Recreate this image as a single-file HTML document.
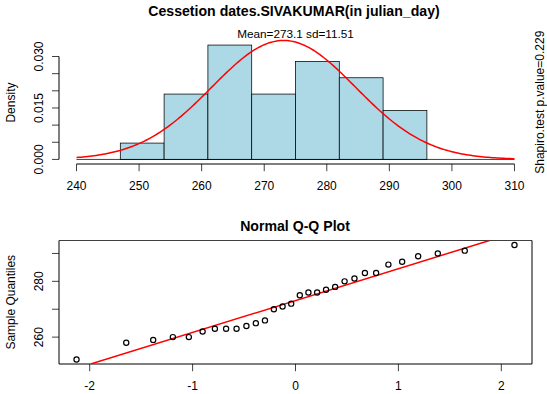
<!DOCTYPE html>
<html><head><meta charset="utf-8"><style>
html,body{margin:0;padding:0;background:#fff;width:547px;height:394px;overflow:hidden}
text{font-family:"Liberation Sans",sans-serif;fill:#000}
</style></head><body>
<svg width="547" height="394" viewBox="0 0 547 394" style="display:block"><rect width="547" height="394" fill="#fff"/><rect x="120.31" y="143.09" width="43.80" height="16.34" fill="#ADD8E6" stroke="#000" stroke-width="0.75"/><rect x="164.11" y="94.08" width="43.80" height="65.34" fill="#ADD8E6" stroke="#000" stroke-width="0.75"/><rect x="207.91" y="45.07" width="43.80" height="114.35" fill="#ADD8E6" stroke="#000" stroke-width="0.75"/><rect x="251.70" y="94.08" width="43.80" height="65.34" fill="#ADD8E6" stroke="#000" stroke-width="0.75"/><rect x="295.50" y="61.41" width="43.80" height="98.02" fill="#ADD8E6" stroke="#000" stroke-width="0.75"/><rect x="339.30" y="77.75" width="43.80" height="81.68" fill="#ADD8E6" stroke="#000" stroke-width="0.75"/><rect x="383.09" y="110.42" width="43.80" height="49.01" fill="#ADD8E6" stroke="#000" stroke-width="0.75"/><line x1="76.52" y1="159.43" x2="514.48" y2="159.43" stroke="#000" stroke-width="0.75"/><polyline points="76.52,157.53 78.71,157.36 80.90,157.17 83.09,156.97 85.28,156.75 87.47,156.52 89.66,156.27 91.85,156.00 94.04,155.72 96.23,155.41 98.42,155.08 100.61,154.73 102.80,154.35 104.99,153.95 107.18,153.53 109.37,153.07 111.56,152.59 113.75,152.08 115.94,151.53 118.13,150.96 120.31,150.35 122.50,149.71 124.69,149.03 126.88,148.31 129.07,147.55 131.26,146.76 133.45,145.92 135.64,145.04 137.83,144.12 140.02,143.16 142.21,142.15 144.40,141.09 146.59,139.99 148.78,138.84 150.97,137.64 153.16,136.40 155.35,135.11 157.54,133.76 159.73,132.37 161.92,130.93 164.11,129.44 166.30,127.90 168.49,126.31 170.68,124.68 172.87,123.00 175.06,121.27 177.25,119.50 179.44,117.68 181.63,115.82 183.82,113.92 186.01,111.98 188.20,110.01 190.39,108.00 192.58,105.96 194.77,103.89 196.96,101.79 199.15,99.67 201.34,97.52 203.53,95.36 205.72,93.19 207.91,91.00 210.10,88.81 212.29,86.62 214.48,84.42 216.67,82.24 218.86,80.06 221.05,77.89 223.24,75.75 225.43,73.62 227.62,71.53 229.81,69.47 232.00,67.44 234.19,65.45 236.38,63.51 238.56,61.63 240.75,59.79 242.94,58.02 245.13,56.31 247.32,54.67 249.51,53.10 251.70,51.60 253.89,50.19 256.08,48.86 258.27,47.62 260.46,46.47 262.65,45.41 264.84,44.45 267.03,43.59 269.22,42.82 271.41,42.17 273.60,41.62 275.79,41.17 277.98,40.83 280.17,40.61 282.36,40.49 284.55,40.48 286.74,40.58 288.93,40.80 291.12,41.12 293.31,41.55 295.50,42.08 297.69,42.72 299.88,43.47 302.07,44.32 304.26,45.27 306.45,46.31 308.64,47.45 310.83,48.68 313.02,49.99 315.21,51.40 317.40,52.88 319.59,54.44 321.78,56.07 323.97,57.77 326.16,59.53 328.35,61.36 330.54,63.24 332.73,65.17 334.92,67.15 337.11,69.17 339.30,71.23 341.49,73.32 343.68,75.44 345.87,77.58 348.06,79.75 350.25,81.92 352.44,84.11 354.62,86.30 356.81,88.50 359.00,90.69 361.19,92.88 363.38,95.05 365.57,97.22 367.76,99.36 369.95,101.49 372.14,103.59 374.33,105.66 376.52,107.71 378.71,109.72 380.90,111.70 383.09,113.65 385.28,115.55 387.47,117.42 389.66,119.24 391.85,121.02 394.04,122.75 396.23,124.44 398.42,126.08 400.61,127.68 402.80,129.22 404.99,130.72 407.18,132.17 409.37,133.57 411.56,134.92 413.75,136.22 415.94,137.47 418.13,138.67 420.32,139.83 422.51,140.94 424.70,142.00 426.89,143.02 429.08,143.99 431.27,144.91 433.46,145.80 435.65,146.64 437.84,147.44 440.03,148.20 442.22,148.93 444.41,149.61 446.60,150.26 448.79,150.87 450.98,151.45 453.17,152.00 455.36,152.52 457.55,153.01 459.74,153.46 461.93,153.89 464.12,154.30 466.31,154.68 468.50,155.03 470.69,155.36 472.88,155.67 475.06,155.96 477.25,156.23 479.44,156.49 481.63,156.72 483.82,156.94 486.01,157.14 488.20,157.33 490.39,157.51 492.58,157.67 494.77,157.82 496.96,157.95 499.15,158.08 501.34,158.20 503.53,158.31 505.72,158.41 507.91,158.50 510.10,158.58 512.29,158.66 514.48,158.73" fill="none" stroke="#FF0000" stroke-width="1.5"/><line x1="76.52" y1="164.0" x2="514.48" y2="164.0" stroke="#000" stroke-width="1"/><line x1="76.52" y1="164.0" x2="76.52" y2="171.2" stroke="#000" stroke-width="0.75"/><text x="76.52" y="190" font-size="12" text-anchor="middle">240</text><line x1="139.08" y1="164.0" x2="139.08" y2="171.2" stroke="#000" stroke-width="0.75"/><text x="139.08" y="190" font-size="12" text-anchor="middle">250</text><line x1="201.65" y1="164.0" x2="201.65" y2="171.2" stroke="#000" stroke-width="0.75"/><text x="201.65" y="190" font-size="12" text-anchor="middle">260</text><line x1="264.22" y1="164.0" x2="264.22" y2="171.2" stroke="#000" stroke-width="0.75"/><text x="264.22" y="190" font-size="12" text-anchor="middle">270</text><line x1="326.78" y1="164.0" x2="326.78" y2="171.2" stroke="#000" stroke-width="0.75"/><text x="326.78" y="190" font-size="12" text-anchor="middle">280</text><line x1="389.35" y1="164.0" x2="389.35" y2="171.2" stroke="#000" stroke-width="0.75"/><text x="389.35" y="190" font-size="12" text-anchor="middle">290</text><line x1="451.92" y1="164.0" x2="451.92" y2="171.2" stroke="#000" stroke-width="0.75"/><text x="451.92" y="190" font-size="12" text-anchor="middle">300</text><line x1="514.48" y1="164.0" x2="514.48" y2="171.2" stroke="#000" stroke-width="0.75"/><text x="514.48" y="190" font-size="12" text-anchor="middle">310</text><line x1="59.0" y1="159.43" x2="59.0" y2="56.51" stroke="#000" stroke-width="1"/><line x1="52.0" y1="159.43" x2="59.0" y2="159.43" stroke="#000" stroke-width="0.75"/><line x1="52.0" y1="142.27" x2="59.0" y2="142.27" stroke="#000" stroke-width="0.75"/><line x1="52.0" y1="125.12" x2="59.0" y2="125.12" stroke="#000" stroke-width="0.75"/><line x1="52.0" y1="107.97" x2="59.0" y2="107.97" stroke="#000" stroke-width="0.75"/><line x1="52.0" y1="90.81" x2="59.0" y2="90.81" stroke="#000" stroke-width="0.75"/><line x1="52.0" y1="73.66" x2="59.0" y2="73.66" stroke="#000" stroke-width="0.75"/><line x1="52.0" y1="56.51" x2="59.0" y2="56.51" stroke="#000" stroke-width="0.75"/><text transform="translate(42.5,159.43) rotate(-90)" font-size="12" text-anchor="middle">0.000</text><text transform="translate(42.5,107.97) rotate(-90)" font-size="12" text-anchor="middle">0.015</text><text transform="translate(42.5,56.51) rotate(-90)" font-size="12" text-anchor="middle">0.030</text><text transform="translate(15.2,102.55) rotate(-90)" font-size="12" text-anchor="middle">Density</text><text transform="translate(544,102.25) rotate(-90)" font-size="12" text-anchor="middle">Shapiro.test p.value=0.229</text><text x="294" y="15.8" font-size="14.12" font-weight="bold" text-anchor="middle">Cessetion dates.SIVAKUMAR(in julian_day)</text><text x="295.5" y="37.7" font-size="11.75" text-anchor="middle">Mean=273.1 sd=11.51</text><text x="295" y="230.8" font-size="14.12" font-weight="bold" text-anchor="middle">Normal Q-Q Plot</text><path d="M59.0,240.5 H532.0" stroke="#000" stroke-width="0.75" fill="none"/><path d="M59.0,240.5 V364.0 H532.0 V240.5" stroke="#000" stroke-width="1" fill="none"/><line x1="89.69" y1="364.0" x2="89.69" y2="371.2" stroke="#000" stroke-width="0.75"/><text x="89.69" y="390" font-size="12" text-anchor="middle">-2</text><line x1="192.60" y1="364.0" x2="192.60" y2="371.2" stroke="#000" stroke-width="0.75"/><text x="192.60" y="390" font-size="12" text-anchor="middle">-1</text><line x1="295.50" y1="364.0" x2="295.50" y2="371.2" stroke="#000" stroke-width="0.75"/><text x="295.50" y="390" font-size="12" text-anchor="middle">0</text><line x1="398.40" y1="364.0" x2="398.40" y2="371.2" stroke="#000" stroke-width="0.75"/><text x="398.40" y="390" font-size="12" text-anchor="middle">1</text><line x1="501.31" y1="364.0" x2="501.31" y2="371.2" stroke="#000" stroke-width="0.75"/><text x="501.31" y="390" font-size="12" text-anchor="middle">2</text><line x1="52.0" y1="337.11" x2="59.0" y2="337.11" stroke="#000" stroke-width="0.75"/><line x1="52.0" y1="309.22" x2="59.0" y2="309.22" stroke="#000" stroke-width="0.75"/><line x1="52.0" y1="281.33" x2="59.0" y2="281.33" stroke="#000" stroke-width="0.75"/><line x1="52.0" y1="253.44" x2="59.0" y2="253.44" stroke="#000" stroke-width="0.75"/><text transform="translate(42.5,337.11) rotate(-90)" font-size="12" text-anchor="middle">260</text><text transform="translate(42.5,281.33) rotate(-90)" font-size="12" text-anchor="middle">280</text><text transform="translate(15.2,302.25) rotate(-90)" font-size="12" text-anchor="middle">Sample Quantiles</text><defs><clipPath id="c2"><rect x="59.0" y="240.5" width="473.0" height="123.5"/></clipPath></defs><line x1="90.7" y1="364" x2="489.5" y2="240.5" stroke="#FF0000" stroke-width="1.5" clip-path="url(#c2)"/><circle cx="76.52" cy="359.43" r="2.6" fill="none" stroke="#000" stroke-width="1.2"/><circle cx="126.24" cy="342.69" r="2.6" fill="none" stroke="#000" stroke-width="1.2"/><circle cx="153.19" cy="339.90" r="2.6" fill="none" stroke="#000" stroke-width="1.2"/><circle cx="172.86" cy="337.11" r="2.6" fill="none" stroke="#000" stroke-width="1.2"/><circle cx="188.85" cy="337.11" r="2.6" fill="none" stroke="#000" stroke-width="1.2"/><circle cx="202.61" cy="331.54" r="2.6" fill="none" stroke="#000" stroke-width="1.2"/><circle cx="214.88" cy="328.75" r="2.6" fill="none" stroke="#000" stroke-width="1.2"/><circle cx="226.09" cy="328.75" r="2.6" fill="none" stroke="#000" stroke-width="1.2"/><circle cx="236.54" cy="328.75" r="2.6" fill="none" stroke="#000" stroke-width="1.2"/><circle cx="246.41" cy="325.96" r="2.6" fill="none" stroke="#000" stroke-width="1.2"/><circle cx="255.85" cy="323.17" r="2.6" fill="none" stroke="#000" stroke-width="1.2"/><circle cx="264.96" cy="320.38" r="2.6" fill="none" stroke="#000" stroke-width="1.2"/><circle cx="273.85" cy="309.22" r="2.6" fill="none" stroke="#000" stroke-width="1.2"/><circle cx="282.57" cy="306.43" r="2.6" fill="none" stroke="#000" stroke-width="1.2"/><circle cx="291.20" cy="303.64" r="2.6" fill="none" stroke="#000" stroke-width="1.2"/><circle cx="299.80" cy="295.28" r="2.6" fill="none" stroke="#000" stroke-width="1.2"/><circle cx="308.43" cy="292.49" r="2.6" fill="none" stroke="#000" stroke-width="1.2"/><circle cx="317.15" cy="292.49" r="2.6" fill="none" stroke="#000" stroke-width="1.2"/><circle cx="326.04" cy="289.70" r="2.6" fill="none" stroke="#000" stroke-width="1.2"/><circle cx="335.15" cy="286.91" r="2.6" fill="none" stroke="#000" stroke-width="1.2"/><circle cx="344.59" cy="281.33" r="2.6" fill="none" stroke="#000" stroke-width="1.2"/><circle cx="354.46" cy="278.54" r="2.6" fill="none" stroke="#000" stroke-width="1.2"/><circle cx="364.91" cy="272.96" r="2.6" fill="none" stroke="#000" stroke-width="1.2"/><circle cx="376.12" cy="272.96" r="2.6" fill="none" stroke="#000" stroke-width="1.2"/><circle cx="388.39" cy="264.60" r="2.6" fill="none" stroke="#000" stroke-width="1.2"/><circle cx="402.15" cy="261.81" r="2.6" fill="none" stroke="#000" stroke-width="1.2"/><circle cx="418.14" cy="256.23" r="2.6" fill="none" stroke="#000" stroke-width="1.2"/><circle cx="437.81" cy="253.44" r="2.6" fill="none" stroke="#000" stroke-width="1.2"/><circle cx="464.76" cy="250.65" r="2.6" fill="none" stroke="#000" stroke-width="1.2"/><circle cx="514.48" cy="245.07" r="2.6" fill="none" stroke="#000" stroke-width="1.2"/></svg>
</body></html>
